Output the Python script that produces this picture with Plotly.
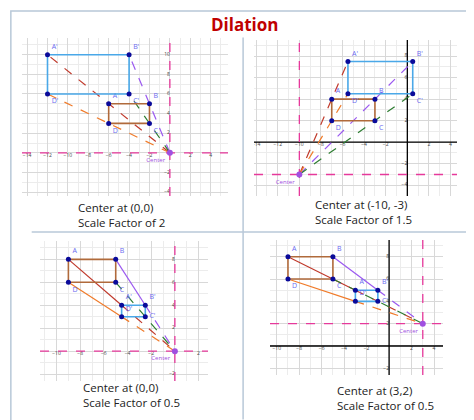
import plotly.graph_objects as go

# original figure ABCD, center, scale factor for each panel
orig1 = [(-6, 5), (-2, 5), (-2, 3), (-6, 3)]
center1, k1 = (0, 0), 2
orig2 = [(-7, 4), (-3, 4), (-3, 2), (-7, 2)]
center2, k2 = (-10, -3), 1.5
orig3 = [(-9, 8), (-5, 8), (-5, 6), (-9, 6)]
center3, k3 = (0, 0), 0.5
orig4 = [(-9, 8), (-5, 8), (-5, 6), (-9, 6)]
center4, k4 = (3, 2), 0.5

names = ["A", "B", "C", "D"]
ray_colors = ["#c0392b", "#9b59f0", "#2e7d32", "#f07b2a"]
captions = ["Center at (0,0)<br>Scale Factor of 2", "Center at (-10, -3)<br>Scale Factor of 1.5",
            "Center at (0,0)<br>Scale Factor of 0.5", "Center at (3,2)<br>Scale Factor of 0.5"]

W, H = 474, 420
panels = [
    dict(orig=orig1, c=center1, k=k1, xr=[-14.5, 5.7], yr=[-4.4, 11.7], px=(14, 220, 30, 188),
         xt=list(range(-14, 5, 2)), yt=list(range(-4, 11, 2)), cap=(68, 207)),
    dict(orig=orig2, c=center2, k=k2, xr=[-14.2, 4.6], yr=[-5, 9.5], px=(246, 449, 32, 188),
         xt=list(range(-14, 5, 2)), yt=list(range(-4, 9, 2)), cap=(305, 204)),
    dict(orig=orig3, c=center3, k=k3, xr=[-11.4, 2.8], yr=[-2.6, 9.6], px=(32, 200, 233, 373),
         xt=list(range(-10, 3, 2)), yt=list(range(-2, 9, 2)), cap=(73, 387)),
    dict(orig=orig4, c=center4, k=k4, xr=[-10.6, 4.8], yr=[-2.6, 9.5], px=(262, 435, 232, 367),
         xt=list(range(-10, 5, 2)), yt=list(range(-2, 9, 2)), cap=(327, 390)),
]

fig = go.Figure()
layout = {}
annotations = []
pink = "#e6399b"

for i, p in enumerate(panels):
    n = "" if i == 0 else str(i + 1)
    xa, ya = "x" + n, "y" + n
    cx, cy = p["c"]
    img = [(cx + p["k"] * (x - cx), cy + p["k"] * (y - cy)) for x, y in p["orig"]]
    enlarge = p["k"] > 1
    xs = [t for t in p["xt"] if t != 0]
    ys = [t for t in p["yt"] if t != 0]
    # tick labels along the axis lines
    fig.add_trace(go.Scatter(x=xs, y=[0] * len(xs), mode="text", text=[str(t).replace("-", "−") for t in xs],
                             textposition="bottom center", textfont=dict(size=5, color="#444"),
                             xaxis=xa, yaxis=ya, showlegend=False, hoverinfo="skip"))
    fig.add_trace(go.Scatter(x=[0] * len(ys), y=ys, mode="text", text=[str(t).replace("-", "−") for t in ys],
                             textposition="middle left", textfont=dict(size=5, color="#444"),
                             xaxis=xa, yaxis=ya, showlegend=False, hoverinfo="skip"))
    # axes (pink dashed when the center is the origin)
    axcol = pink if (cx, cy) == (0, 0) else "black"
    axdash = "dash" if axcol == pink else "solid"
    fig.add_trace(go.Scatter(x=p["xr"], y=[0, 0], mode="lines", line=dict(color=axcol, width=1.3, dash=axdash),
                             xaxis=xa, yaxis=ya, showlegend=False))
    fig.add_trace(go.Scatter(x=[0, 0], y=p["yr"], mode="lines", line=dict(color=axcol, width=1.3, dash=axdash),
                             xaxis=xa, yaxis=ya, showlegend=False))
    if (cx, cy) != (0, 0):
        fig.add_trace(go.Scatter(x=p["xr"], y=[cy, cy], mode="lines", line=dict(color=pink, width=1.3, dash="dash"),
                                 xaxis=xa, yaxis=ya, showlegend=False))
        fig.add_trace(go.Scatter(x=[cx, cx], y=p["yr"], mode="lines", line=dict(color=pink, width=1.3, dash="dash"),
                                 xaxis=xa, yaxis=ya, showlegend=False))
    # rays
    for j in range(4):
        if enlarge:
            fig.add_trace(go.Scatter(x=[cx, img[j][0]], y=[cy, img[j][1]], mode="lines",
                                     line=dict(color=ray_colors[j], width=1.2, dash="dash"),
                                     xaxis=xa, yaxis=ya, showlegend=False))
        else:
            if j != 2:
                fig.add_trace(go.Scatter(x=[p["orig"][j][0], img[j][0]], y=[p["orig"][j][1], img[j][1]], mode="lines",
                                         line=dict(color=ray_colors[j], width=1.2),
                                         xaxis=xa, yaxis=ya, showlegend=False))
            st = img[j] if j != 2 else p["orig"][j]
            fig.add_trace(go.Scatter(x=[st[0], cx], y=[st[1], cy], mode="lines",
                                     line=dict(color=ray_colors[j], width=1.2, dash="dash"),
                                     xaxis=xa, yaxis=ya, showlegend=False))
    # polygons
    small = not enlarge
    for pts, col, suf in [(p["orig"], "#b06a3b", ""), (img, "#4aa8e8", "'")]:
        pos = ["top right", "top right", "bottom right", "bottom right"]
        if suf and small:
            pos = ["top right", "top right", "middle right", "top right"]
        fig.add_trace(go.Scatter(x=[q[0] for q in pts] + [pts[0][0]], y=[q[1] for q in pts] + [pts[0][1]],
                                 mode="lines", line=dict(color=col, width=1.6), xaxis=xa, yaxis=ya, showlegend=False))
        fig.add_trace(go.Scatter(x=[q[0] for q in pts], y=[q[1] for q in pts], mode="markers+text",
                                 marker=dict(color="#0a0a9a", size=5), text=[s + suf for s in names],
                                 textposition=pos, textfont=dict(size=7, color="#6a6af0"),
                                 xaxis=xa, yaxis=ya, showlegend=False))
    fig.add_trace(go.Scatter(x=[cx], y=[cy], mode="markers+text", marker=dict(color="#a050e0", size=6),
                             text=["Center"], textposition="bottom left", textfont=dict(size=6, color="#a050e0"),
                             xaxis=xa, yaxis=ya, showlegend=False))
    x0, x1, y0, y1 = p["px"]
    common = dict(showgrid=True, gridcolor="#d8d8d8", gridwidth=1, zeroline=False, showticklabels=False,
                  ticks="", minor=dict(dtick=1, showgrid=True, gridcolor="#ececec"), dtick=2)
    layout["xaxis" + n] = dict(common, range=p["xr"], domain=[x0 / W, x1 / W], anchor=ya)
    layout["yaxis" + n] = dict(common, range=p["yr"], domain=[1 - y1 / H, 1 - y0 / H], anchor=xa)
    annotations.append(dict(x=p["cap"][0] / W, y=1 - p["cap"][1] / H, xref="paper", yref="paper",
                            xanchor="left", yanchor="middle", text=captions[i], showarrow=False, align="left",
                            font=dict(size=11.5, color="#222", family="Open Sans")))

annotations.append(dict(x=0.5, y=1 - 17 / H, xref="paper", yref="paper", xanchor="center", yanchor="middle",
                        text="<b>Dilation</b>", showarrow=False, font=dict(size=17, color="#c00000", family="Open Sans")))
border = "#b8c8d8"
shapes = [
    dict(type="rect", xref="paper", yref="paper", x0=0.006, x1=0.994, y0=0.007, y1=0.993, line=dict(color=border, width=1.5)),
    dict(type="line", xref="paper", yref="paper", x0=0.496, x1=0.496, y0=0.02, y1=0.93, line=dict(color=border, width=1.5)),
    dict(type="line", xref="paper", yref="paper", x0=0.05, x1=0.97, y0=1 - 224 / H, y1=1 - 224 / H, line=dict(color=border, width=1.5)),
]

fig.update_layout(layout, width=W, height=H, margin=dict(l=0, r=0, t=0, b=0),
                  plot_bgcolor="white", paper_bgcolor="white", annotations=annotations, shapes=shapes)
fig.write_html("out.html")
